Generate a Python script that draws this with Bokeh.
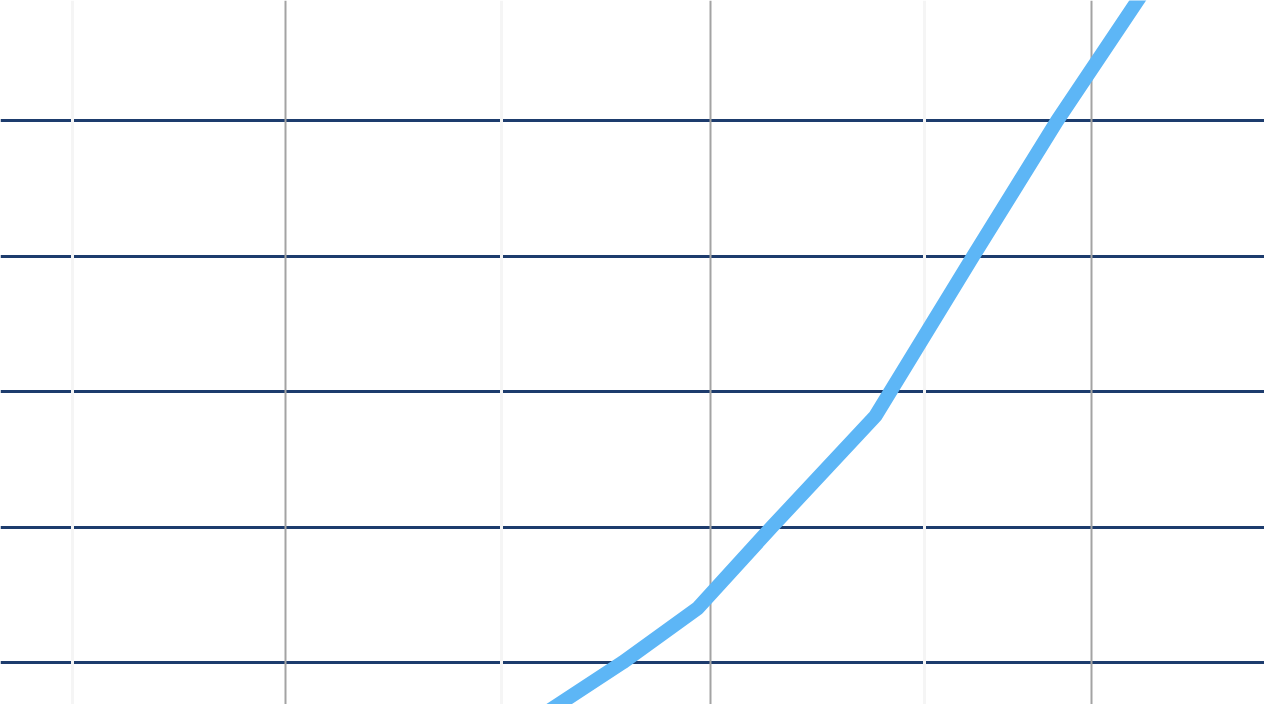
from bokeh.plotting import figure
from bokeh.models import Range1d, FixedTicker, Grid
from bokeh.embed import file_html
from bokeh.resources import INLINE

# line values (x in screen-like units, y in grid steps)
line_x = [540, 630, 706, 781, 886, 985, 1070, 1160]
line_y = [-0.43, 0.0, 0.40, 1.0, 1.82, 3.0, 4.0, 4.98]

# grid positions
y_ticks = [0, 1, 2, 3, 4]
x_major = [289, 719, 1105]
x_minor = [73, 507, 936]

p = figure(width=1264, height=704, output_backend="svg", toolbar_location=None,
           tools="", x_range=Range1d(0, 1280), y_range=Range1d(-0.3105, 4.888),
           x_axis_location=None, y_axis_location=None, min_border=0)
p.outline_line_color = None
p.xgrid.visible = False
p.ygrid.visible = False

hgrid = Grid(dimension=1, ticker=FixedTicker(ticks=y_ticks),
             grid_line_color="#1d3c6d", grid_line_width=3)
light = Grid(dimension=0, ticker=FixedTicker(ticks=x_minor),
             grid_line_color="#f5f5f5", grid_line_width=3)
dark = Grid(dimension=0, ticker=FixedTicker(ticks=x_major),
            grid_line_color="#a3a3a3", grid_line_width=2)
p.add_layout(hgrid)
p.add_layout(light)
p.add_layout(dark)

p.line(line_x, line_y, line_color="#5db6f6", line_width=14,
       line_join="round", line_cap="round")

open("out.html", "w").write(file_html(p, INLINE))
